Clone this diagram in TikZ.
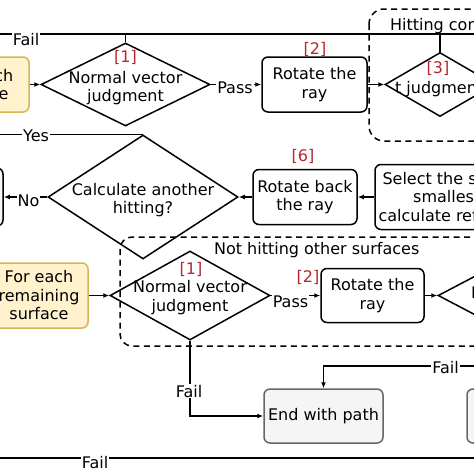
\documentclass[tikz,border=0pt]{standalone}
\usepackage{fontspec}
\setmainfont{DejaVu Sans}
\usepackage{xcolor}
\definecolor{tagRed}{HTML}{B5282E}
\definecolor{startFill}{HTML}{FFF2CC}
\definecolor{startDraw}{HTML}{D6B656}
\definecolor{endFill}{HTML}{F5F5F5}
\definecolor{endDraw}{HTML}{666666}
\usetikzlibrary{arrows.meta,shapes.geometric}

\begin{document}
\begin{tikzpicture}[x=1pt,y=-1pt,line width=1.5pt,
    font=\fontsize{16}{18.5}\selectfont,>={Latex[length=6pt,width=5pt]},
    proc/.style={draw,rounded corners=6pt,align=center,inner sep=0pt},
    startbox/.style={proc,fill=startFill,draw=startDraw},
    endbox/.style={proc,fill=endFill,draw=endDraw},
    decision/.style={diamond,draw,inner sep=0pt},
    tag/.style={text=tagRed},
    elabel/.style={fill=white,inner sep=1pt,anchor=base},
    frame/.style={dash pattern=on 6pt off 4.5pt,rounded corners=15pt}]

\useasboundingbox (0,0) rectangle (474,474);
\clip (0,0) rectangle (474,474);

% Dashed frames
\draw[frame] (369,9) rectangle (620,141);
\draw[frame,rounded corners=12pt] (120,237) rectangle (620,346);

\node[anchor=base west] (hitframe) at (386,30) {Hitting conditions};
\node[anchor=base west] (missframe) at (210,254) {Not hitting other surfaces};

% Top row
\node[startbox,minimum width=100pt,minimum height=55pt] (surf1) at (-21,84.5)
    {For each\\surface};

\node[decision,minimum width=169pt,minimum height=83pt] (nv1) at (125.5,84.5) {};
\node[align=center] (nv1txt) at (125.5,88) {Normal vector\\judgment};
\node[tag] (tag1) at (125.5,57.5) {[1]};

\node[proc,minimum width=105pt,minimum height=55pt] (rot1) at (314.5,84.5)
    {Rotate the\\ray};
\node[tag] (tag2) at (315,49.5) {[2]};

\node[decision,minimum width=110pt,minimum height=64pt] (hit1) at (440,84.5) {};
\node[anchor=base west] (hit1txt) at (391,93) {t judgment};
\node[tag] (tag3) at (438,68.5) {[3]};

\draw[->] (surf1.east) -- (nv1.west);
\draw[->] (nv1.east) -- (rot1.west);
\node[elabel] (pass1) at (235,93) {Pass};
\draw[->] (rot1.east) -- (hit1.west);

% Fail line at the top
\coordinate (failL) at (-10,34);
\coordinate (failR) at (490,34);
\draw (failR) -- (failL);
\draw (nv1.north) -- (nv1.north |- failL);
\draw (hit1.north) -- (hit1.north |- failL);
\node[elabel] (fail1) at (26,45) {Fail};

% Middle row
\node[decision,minimum width=190pt,minimum height=124pt] (calc) at (143,197) {};
\node[align=center] (calctxt) at (143,200) {Calculate another\\hitting?};

\node[endbox,draw=black,minimum width=100pt,minimum height=58pt] (done) at (-47,197) {};

\node[proc,minimum width=104pt,minimum height=55pt] (rotb) at (305,197)
    {Rotate back\\the ray};
\node[tag] (tag6) at (303,156.5) {[6]};

\node[proc,minimum width=160pt,minimum height=65pt] (sel) at (455,197)
    {Select the surface\\smallest t,\\calculate reflection};

\coordinate (yesL) at (-10,0);
\draw (calc.north) -- (calc.north -| yesL);
\node[elabel] (yes) at (36,141) {Yes};

\draw[->] (calc.west) -- (done.east);
\node[elabel] (no) at (28.5,206) {No};
\draw[->] (sel.west) -- (rotb.east);
\draw[->] (rotb.west) -- (calc.east);

% Bottom row
\node[startbox,minimum width=98pt,minimum height=65pt] (surf2) at (39,295.5)
    {For each\\remaining\\surface};

\node[decision,minimum width=160pt,minimum height=89pt] (nv2) at (190,295.5) {};
\node[align=center] (nv2txt) at (190,297.5) {Normal vector\\judgment};
\node[tag] (tag1b) at (191,269.5) {[1]};

\node[proc,minimum width=103pt,minimum height=54pt] (rot2) at (372.5,295.5)
    {Rotate the\\ray};
\node[tag] (tag2b) at (308,277.5) {[2]};

\node[decision,minimum width=110pt,minimum height=58pt] (hit2) at (493,295.5) {};
\node[anchor=base west] (hit2txt) at (467,298) {Hit judgment};

\draw[->] (surf2.east) -- (nv2.west);
\draw[->] (nv2.east) -- (rot2.west);
\node[elabel] (pass2) at (290.5,307) {Pass};
\draw[->] (rot2.east) -- (hit2.west);

% End boxes
\node[endbox,minimum width=119pt,minimum height=54pt] (endp) at (323.5,416)
    {End with path};
\node[endbox,minimum width=120pt,minimum height=54pt] (endq) at (527,416) {};

\draw[->] (nv2.south) |- (endp.west);
\node[elabel] (fail2) at (189,397) {Fail};

\coordinate (fail3R) at (490,366);
\draw[->] (fail3R) -| (endp.north);
\node[elabel] (fail3) at (445.5,373) {Fail};

% Fail line at the bottom
\coordinate (failBL) at (-10,458);
\coordinate (failBR) at (490,458);
\draw (failBL) -- (failBR);
\node[elabel] (fail4) at (95,468) {Fail};

\end{tikzpicture}
\end{document}
